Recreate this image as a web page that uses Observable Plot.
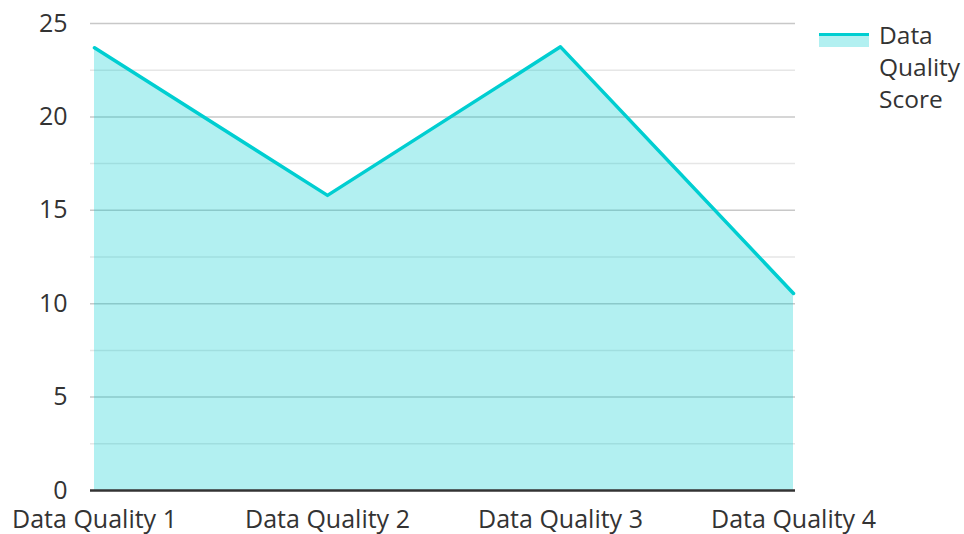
<!DOCTYPE html>
<html>
<head>
<meta charset="utf-8">
<script src="https://cdn.jsdelivr.net/npm/d3@7"></script>
<script src="https://cdn.jsdelivr.net/npm/@observablehq/plot@0.6"></script>
<style>
  html, body { margin: 0; padding: 0; background: #fff; }
  #wrap { position: relative; width: 964px; height: 534px; font-family: "Open Sans", sans-serif; }
  #legend { position: absolute; left: 819px; top: 19px; display: flex; align-items: flex-start; }
  #legend .sw { width: 50px; height: 14px; margin-top: 14px; position: relative; }
  #legend .sw .fill { position: absolute; left: 0; top: 3px; width: 50px; height: 11px; background: rgba(0,206,209,0.3); }
  #legend .sw .ln { position: absolute; left: 0; top: 0; width: 50px; height: 3px; background: #00ced1; }
  #legend .lbl { margin-left: 10px; font-size: 24.5px; line-height: 32px; color: #333; }
</style>
</head>
<body>
<div id="wrap">
  <div id="chart"></div>
  <div id="legend"><div class="sw"><div class="fill"></div><div class="ln"></div></div><div class="lbl">Data<br>Quality<br>Score</div></div>
</div>
<script>
const categories = ["Data Quality 1", "Data Quality 2", "Data Quality 3", "Data Quality 4"];
const scores = [23.7, 15.8, 23.75, 10.55];
const majorTicks = [0, 5, 10, 15, 20, 25];
const minorTicks = [2.5, 7.5, 12.5, 17.5, 22.5];
const seriesName = "Data Quality Score";

const data = categories.map((c, i) => ({category: c, score: scores[i]}));

const chart = Plot.plot({
  width: 964,
  height: 534,
  marginLeft: 93,
  marginRight: 171,
  marginTop: 23,
  marginBottom: 44,
  style: {fontFamily: "Open Sans, sans-serif", fontSize: "25px", color: "#333", background: "#fff"},
  x: {type: "point", domain: categories, padding: 0, label: null},
  y: {domain: [0, 25], label: null},
  marks: [
    Plot.ruleY(minorTicks, {stroke: "#e6e6e6", strokeWidth: 1.5, insetLeft: -3, insetRight: -2}),
    Plot.ruleY(majorTicks.filter(d => d > 0), {stroke: "#c8c8c8", strokeWidth: 1.5, insetLeft: -3, insetRight: -2}),
    Plot.areaY(data, {x: "category", y: "score", fill: "#00ced1", fillOpacity: 0.3}),
    Plot.lineY(data, {x: "category", y: "score", stroke: "#00ced1", strokeWidth: 3.5}),
    Plot.ruleY([0], {stroke: "#333", strokeWidth: 2.5, insetLeft: -3, insetRight: -2}),
    Plot.axisY(majorTicks, {tickSize: 0, tickPadding: 26, fontSize: 25, fill: "#333"}),
    Plot.axisX({tickSize: 0, tickPadding: 20, fontSize: 25, fill: "#333"})
  ]
});
document.getElementById("chart").appendChild(chart);
</script>
</body>
</html>
